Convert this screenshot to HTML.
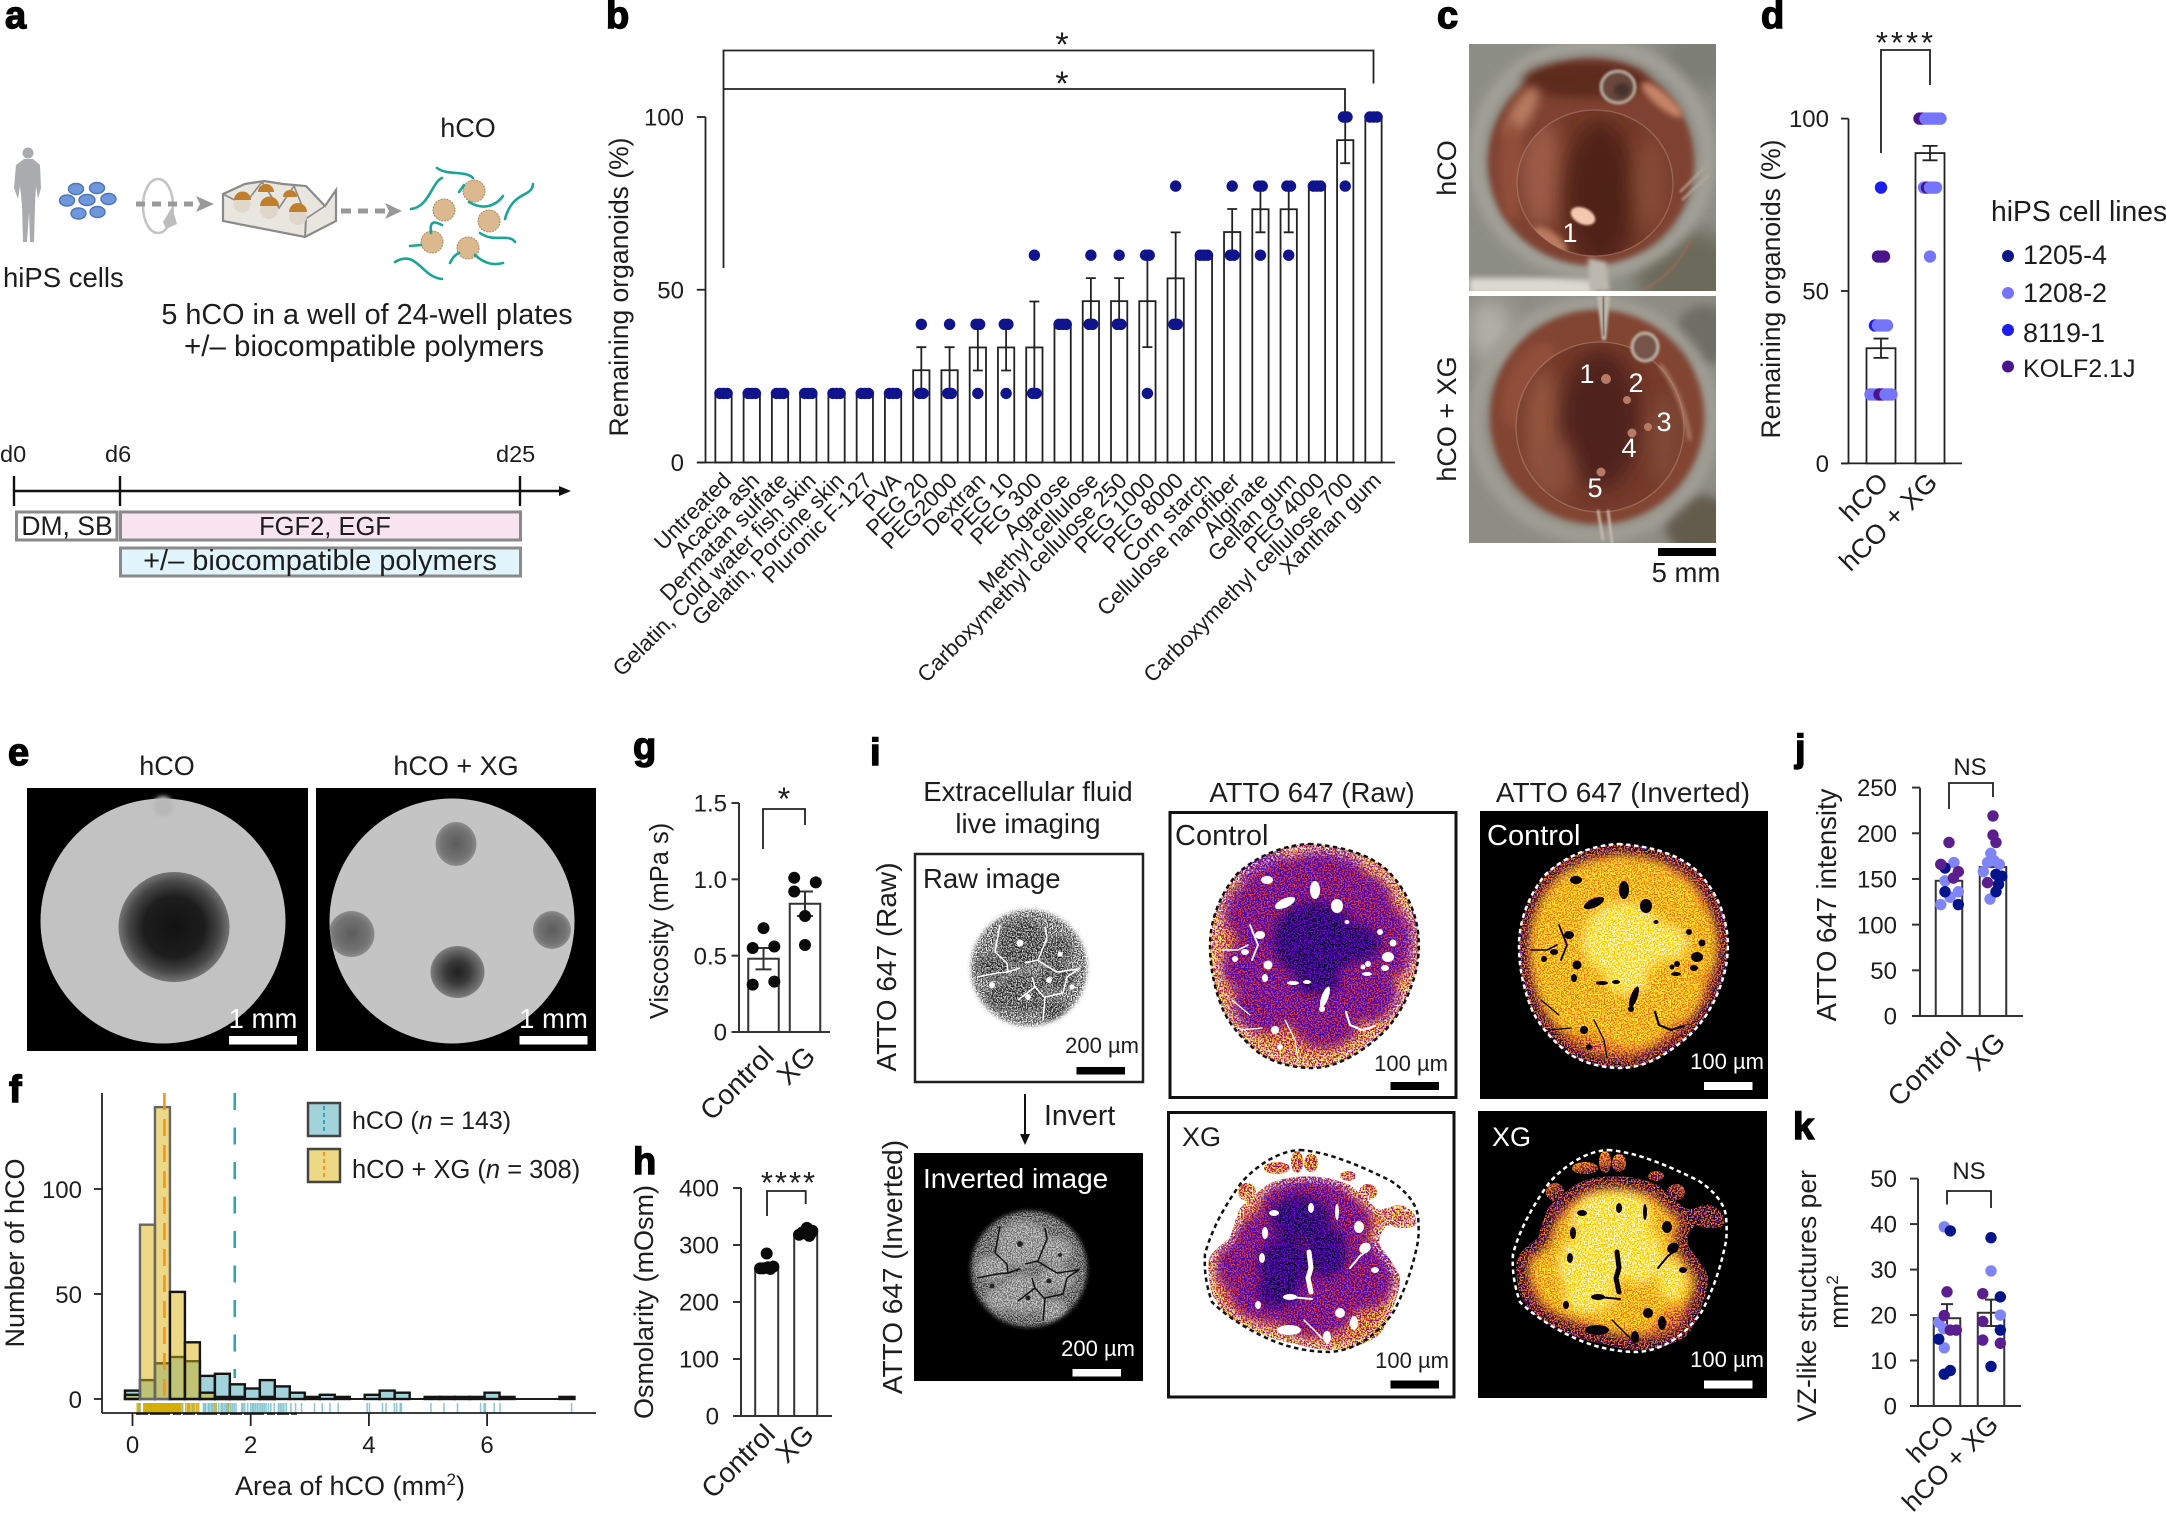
<!DOCTYPE html>
<html lang="en">
<head>
<meta charset="utf-8">
<title>Biocompatible polymers and human cortical organoids</title>
<style>
html,body{margin:0;padding:0;background:#fff}
svg{display:block}
text{font-family:"Liberation Sans",sans-serif;fill:#1d1d1d}
.pl{font-size:38px;font-weight:bold;fill:#000;stroke:#000;stroke-width:1.4}
.w{fill:#fff}
</style>
</head>
<body>
<svg id="root" xmlns="http://www.w3.org/2000/svg" width="2166" height="1517" viewBox="0 0 2166 1517">
<defs>
<filter id="blur1" x="-30%" y="-30%" width="160%" height="160%"><feGaussianBlur stdDeviation="1"/></filter>
<filter id="blur2" x="-30%" y="-30%" width="160%" height="160%"><feGaussianBlur stdDeviation="2"/></filter>
<filter id="blur3" x="-30%" y="-30%" width="160%" height="160%"><feGaussianBlur stdDeviation="3"/></filter>
<filter id="blur5" x="-40%" y="-40%" width="180%" height="180%"><feGaussianBlur stdDeviation="5"/></filter>
<filter id="blur10" x="-60%" y="-60%" width="220%" height="220%"><feGaussianBlur stdDeviation="10"/></filter>

<filter id="nRawOuter" x="0" y="0" width="100%" height="100%" color-interpolation-filters="sRGB">
<feTurbulence type="fractalNoise" baseFrequency="0.65" numOctaves="1" seed="3"/>
<feColorMatrix values="5 0 0 0 -2 5 0 0 0 -2 5 0 0 0 -2 0 0 0 0 1"/>
<feComponentTransfer><feFuncR type="discrete" tableValues=".55 .8 .95 1 1"/><feFuncG type="discrete" tableValues=".05 .18 .42 .68 .92"/><feFuncB type="discrete" tableValues=".42 .3 .1 .05 .4"/></feComponentTransfer>
</filter>
<filter id="nRawMid" x="0" y="0" width="100%" height="100%" color-interpolation-filters="sRGB">
<feTurbulence type="fractalNoise" baseFrequency="0.7" numOctaves="1" seed="8"/>
<feColorMatrix values="5 0 0 0 -2 5 0 0 0 -2 5 0 0 0 -2 0 0 0 0 1"/>
<feComponentTransfer><feFuncR type="discrete" tableValues=".22 .36 .48 .62 .85"/><feFuncG type="discrete" tableValues=".02 .03 .05 .08 .25"/><feFuncB type="discrete" tableValues=".62 .7 .66 .48 .25"/></feComponentTransfer>
</filter>
<filter id="nRawCore" x="0" y="0" width="100%" height="100%" color-interpolation-filters="sRGB">
<feTurbulence type="fractalNoise" baseFrequency="0.7" numOctaves="1" seed="15"/>
<feColorMatrix values="5 0 0 0 -2 5 0 0 0 -2 5 0 0 0 -2 0 0 0 0 1"/>
<feComponentTransfer><feFuncR type="discrete" tableValues=".02 .1 .2 .3 .45"/><feFuncG type="discrete" tableValues="0 0 .02 .03 .05"/><feFuncB type="discrete" tableValues=".1 .42 .62 .72 .72"/></feComponentTransfer>
</filter>
<filter id="nInvOuter" x="0" y="0" width="100%" height="100%" color-interpolation-filters="sRGB">
<feTurbulence type="fractalNoise" baseFrequency="0.65" numOctaves="1" seed="5"/>
<feColorMatrix values="5 0 0 0 -2 5 0 0 0 -2 5 0 0 0 -2 0 0 0 0 1"/>
<feComponentTransfer><feFuncR type="discrete" tableValues=".6 .85 .97 1 1"/><feFuncG type="discrete" tableValues=".12 .3 .5 .64 .76"/><feFuncB type="discrete" tableValues=".3 .2 .08 .06 .12"/></feComponentTransfer>
</filter>
<filter id="nInvMid" x="0" y="0" width="100%" height="100%" color-interpolation-filters="sRGB">
<feTurbulence type="fractalNoise" baseFrequency="0.7" numOctaves="1" seed="11"/>
<feColorMatrix values="5 0 0 0 -2 5 0 0 0 -2 5 0 0 0 -2 0 0 0 0 1"/>
<feComponentTransfer><feFuncR type="discrete" tableValues=".9 1 1 1 1"/><feFuncG type="discrete" tableValues=".45 .62 .74 .84 .92"/><feFuncB type="discrete" tableValues=".08 .04 .06 .12 .3"/></feComponentTransfer>
</filter>
<filter id="nInvCore" x="0" y="0" width="100%" height="100%" color-interpolation-filters="sRGB">
<feTurbulence type="fractalNoise" baseFrequency="0.7" numOctaves="1" seed="9"/>
<feColorMatrix values="5 0 0 0 -2 5 0 0 0 -2 5 0 0 0 -2 0 0 0 0 1"/>
<feComponentTransfer><feFuncR type="discrete" tableValues="1 1 1 1 1"/><feFuncG type="discrete" tableValues=".76 .84 .9 .97 1"/><feFuncB type="discrete" tableValues=".05 .1 .2 .45 .9"/></feComponentTransfer>
</filter>
<filter id="nInvRim" x="0" y="0" width="100%" height="100%" color-interpolation-filters="sRGB">
<feTurbulence type="fractalNoise" baseFrequency="0.7" numOctaves="1" seed="12"/>
<feColorMatrix values="5 0 0 0 -2 5 0 0 0 -2 5 0 0 0 -2 0 0 0 0 1"/>
<feComponentTransfer><feFuncR type="discrete" tableValues="0 .12 .35 .7 .95"/><feFuncG type="discrete" tableValues="0 0 .03 .12 .5"/><feFuncB type="discrete" tableValues="0 .22 .58 .4 .1"/></feComponentTransfer>
</filter>
<filter id="nSpeckle" x="0" y="0" width="100%" height="100%" color-interpolation-filters="sRGB">
<feTurbulence type="fractalNoise" baseFrequency="0.6" numOctaves="1" seed="21"/>
<feColorMatrix values="0 0 0 0 1 0 0 0 0 1 0 0 0 0 1 7 0 0 0 -3.5"/>
</filter>
<filter id="nGrayRawLight" x="0" y="0" width="100%" height="100%" color-interpolation-filters="sRGB">
<feTurbulence type="fractalNoise" baseFrequency="0.8" numOctaves="1" seed="4"/>
<feColorMatrix values="5 0 0 0 -2 5 0 0 0 -2 5 0 0 0 -2 0 0 0 0 1"/>
<feComponentTransfer><feFuncR type="discrete" tableValues=".22 .38 .52 .7 .95"/><feFuncG type="discrete" tableValues=".22 .38 .52 .7 .95"/><feFuncB type="discrete" tableValues=".22 .38 .52 .7 .95"/></feComponentTransfer>
</filter>
<filter id="nGrayRawDark" x="0" y="0" width="100%" height="100%" color-interpolation-filters="sRGB">
<feTurbulence type="fractalNoise" baseFrequency="0.8" numOctaves="1" seed="6"/>
<feColorMatrix values="5 0 0 0 -2 5 0 0 0 -2 5 0 0 0 -2 0 0 0 0 1"/>
<feComponentTransfer><feFuncR type="discrete" tableValues=".12 .25 .35 .5 .8"/><feFuncG type="discrete" tableValues=".12 .25 .35 .5 .8"/><feFuncB type="discrete" tableValues=".12 .25 .35 .5 .8"/></feComponentTransfer>
</filter>
<filter id="nGrayInvLight" x="0" y="0" width="100%" height="100%" color-interpolation-filters="sRGB">
<feTurbulence type="fractalNoise" baseFrequency="0.8" numOctaves="1" seed="7"/>
<feColorMatrix values="5 0 0 0 -2 5 0 0 0 -2 5 0 0 0 -2 0 0 0 0 1"/>
<feComponentTransfer><feFuncR type="discrete" tableValues=".2 .36 .46 .56 .68"/><feFuncG type="discrete" tableValues=".2 .36 .46 .56 .68"/><feFuncB type="discrete" tableValues=".2 .36 .46 .56 .68"/></feComponentTransfer>
</filter>
<filter id="nGrayInvBright" x="0" y="0" width="100%" height="100%" color-interpolation-filters="sRGB">
<feTurbulence type="fractalNoise" baseFrequency="0.8" numOctaves="1" seed="17"/>
<feColorMatrix values="5 0 0 0 -2 5 0 0 0 -2 5 0 0 0 -2 0 0 0 0 1"/>
<feComponentTransfer><feFuncR type="discrete" tableValues=".42 .52 .6 .68 .8"/><feFuncG type="discrete" tableValues=".42 .52 .6 .68 .8"/><feFuncB type="discrete" tableValues=".42 .52 .6 .68 .8"/></feComponentTransfer>
</filter>

<radialGradient id="gradLargeDark"><stop offset="0" stop-color="#121212"/><stop offset=".55" stop-color="#1d1d1d"/><stop offset=".82" stop-color="#474747"/><stop offset="1" stop-color="#757575"/></radialGradient>
<radialGradient id="gradSmallDark"><stop offset="0" stop-color="#1f1f1f"/><stop offset=".45" stop-color="#3a3a3a"/><stop offset=".85" stop-color="#6a6a6a"/><stop offset="1" stop-color="#808080"/></radialGradient>
<radialGradient id="gradSmallMid"><stop offset="0" stop-color="#5c5c5c"/><stop offset=".75" stop-color="#747474"/><stop offset="1" stop-color="#8c8c8c"/></radialGradient>

<path id="outlineCtl" d="M1309,844 C1345,846 1372,856 1388,871 C1406,890 1415,910 1418,932 C1420,950 1418,965 1414,978 C1406,1005 1392,1026 1376,1039 C1356,1056 1334,1068 1312,1068 C1292,1068 1272,1062 1259,1053 C1243,1040 1231,1026 1224,1012 C1215,992 1210,968 1210,946 C1210,920 1220,895 1236,875 C1256,856 1284,845 1309,844 Z"/>
<path id="outlineXg" d="M1300,1150 C1330,1152 1365,1168 1391,1181 C1406,1191 1416,1203 1418,1216 C1419,1228 1419,1238 1417,1246 C1412,1270 1404,1292 1394,1311 C1380,1332 1358,1350 1330,1352 C1310,1352 1290,1348 1271,1340 C1248,1330 1226,1316 1212,1302 C1206,1285 1204,1270 1205,1254 C1212,1228 1226,1204 1241,1183 C1256,1166 1278,1151 1300,1150 Z"/>
<path id="tissueXg" d="M1267,1185 C1285,1175 1320,1172 1350,1185 C1362,1195 1370,1203 1376,1208 C1385,1212 1395,1203 1402,1205 C1410,1208 1418,1215 1416,1225 C1408,1230 1395,1228 1387,1225 C1381,1232 1378,1238 1380,1246 C1388,1258 1398,1268 1400,1278 C1400,1290 1396,1298 1394,1305 C1388,1320 1384,1330 1378,1336 C1362,1346 1346,1350 1334,1350 C1320,1350 1310,1348 1300,1345 C1284,1342 1270,1338 1257,1332 C1244,1326 1232,1320 1224,1312 C1216,1302 1211,1295 1210,1285 C1208,1275 1208,1265 1209,1258 C1214,1250 1222,1244 1230,1238 C1233,1228 1236,1218 1240,1208 C1248,1200 1258,1192 1267,1185 Z"/>
<clipPath id="clipCtl"><use href="#outlineCtl"/></clipPath>
<clipPath id="clipCtlInv"><use href="#outlineCtl" transform="translate(309,0)"/></clipPath>
<clipPath id="clipXg"><use href="#tissueXg"/><ellipse cx="1277" cy="1168" rx="13" ry="6"/><ellipse cx="1297" cy="1162" rx="6" ry="11"/><ellipse cx="1311" cy="1163" rx="7" ry="9"/><ellipse cx="1247" cy="1192" rx="9" ry="9"/><ellipse cx="1348" cy="1176" rx="8" ry="5"/><ellipse cx="1368" cy="1192" rx="9" ry="8"/></clipPath>
<clipPath id="clipXgInv"><use href="#tissueXg" transform="translate(308,0)"/><ellipse cx="1585" cy="1168" rx="13" ry="6"/><ellipse cx="1605" cy="1162" rx="6" ry="11"/><ellipse cx="1619" cy="1163" rx="7" ry="9"/><ellipse cx="1555" cy="1192" rx="9" ry="9"/><ellipse cx="1656" cy="1176" rx="8" ry="5"/><ellipse cx="1676" cy="1192" rx="9" ry="8"/></clipPath>

<g id="lobesCtlMid" fill="#fff" filter="url(#blur5)">
<ellipse cx="1268" cy="872" rx="30" ry="22"/><ellipse cx="1325" cy="875" rx="40" ry="27"/><ellipse cx="1367" cy="905" rx="26" ry="30"/><ellipse cx="1395" cy="943" rx="21" ry="34"/><ellipse cx="1242" cy="910" rx="20" ry="24"/><ellipse cx="1248" cy="967" rx="27" ry="24"/><ellipse cx="1372" cy="997" rx="27" ry="25"/><ellipse cx="1325" cy="1019" rx="34" ry="29"/><ellipse cx="1265" cy="1007" rx="32" ry="26"/><ellipse cx="1278" cy="910" rx="28" ry="24"/><ellipse cx="1315" cy="945" rx="80" ry="68"/>
</g>
<g id="lobesCtlCore" fill="#fff" filter="url(#blur5)">
<ellipse cx="1315" cy="940" rx="42" ry="38"/><ellipse cx="1357" cy="943" rx="22" ry="18"/><ellipse cx="1318" cy="982" rx="22" ry="12"/>
</g>
<g id="lobesXgMid" fill="#fff" filter="url(#blur5)">
<ellipse cx="1307" cy="1208" rx="48" ry="34"/><ellipse cx="1270" cy="1248" rx="40" ry="36"/><ellipse cx="1367" cy="1275" rx="28" ry="34"/><ellipse cx="1327" cy="1292" rx="38" ry="34"/><ellipse cx="1274" cy="1295" rx="44" ry="27"/><ellipse cx="1314" cy="1320" rx="34" ry="17"/><ellipse cx="1240" cy="1265" rx="24" ry="28"/><ellipse cx="1344" cy="1222" rx="28" ry="27"/><ellipse cx="1305" cy="1255" rx="36" ry="30"/>
</g>
<g id="lobesXgCore" fill="#fff" filter="url(#blur5)">
<ellipse cx="1300" cy="1218" rx="30" ry="22"/><ellipse cx="1327" cy="1252" rx="20" ry="25"/><ellipse cx="1284" cy="1265" rx="25" ry="28"/><ellipse cx="1277" cy="1292" rx="20" ry="15"/>
</g>
<g id="coreXgInv" fill="#fff" filter="url(#blur5)">
<ellipse cx="1612" cy="1218" rx="40" ry="30"/><ellipse cx="1638" cy="1255" rx="26" ry="28"/><ellipse cx="1590" cy="1265" rx="32" ry="32"/><ellipse cx="1590" cy="1295" rx="26" ry="18"/><ellipse cx="1672" cy="1280" rx="14" ry="20"/>
</g>
<mask id="maskCtlMid" maskUnits="userSpaceOnUse" x="0" y="0" width="2166" height="1517"><use href="#lobesCtlMid"/></mask>
<mask id="maskCtlCore" maskUnits="userSpaceOnUse" x="0" y="0" width="2166" height="1517"><use href="#lobesCtlCore"/></mask>
<mask id="maskXgMid" maskUnits="userSpaceOnUse" x="0" y="0" width="2166" height="1517"><use href="#lobesXgMid"/></mask>
<mask id="maskXgCore" maskUnits="userSpaceOnUse" x="0" y="0" width="2166" height="1517"><use href="#lobesXgCore"/></mask>
<mask id="maskCtlInvMid" maskUnits="userSpaceOnUse" x="0" y="0" width="2166" height="1517"><use href="#lobesCtlMid" transform="translate(309,0)"/><ellipse cx="1620" cy="1000" rx="60" ry="40" fill="#fff" filter="url(#blur5)"/><ellipse cx="1550" cy="950" rx="28" ry="60" fill="#fff" filter="url(#blur5)"/></mask>
<mask id="maskCtlInvCore" maskUnits="userSpaceOnUse" x="0" y="0" width="2166" height="1517"><use href="#lobesCtlCore" transform="translate(309,0)"/></mask>
<mask id="maskXgInvMid" maskUnits="userSpaceOnUse" x="0" y="0" width="2166" height="1517"><use href="#lobesXgMid" transform="translate(308,0)"/></mask>
<mask id="maskXgInvCore" maskUnits="userSpaceOnUse" x="0" y="0" width="2166" height="1517"><use href="#coreXgInv"/></mask>
<mask id="maskCtlRing" maskUnits="userSpaceOnUse" x="0" y="0" width="2166" height="1517"><use href="#outlineCtl" fill="none" stroke="#fff" stroke-width="20" filter="url(#blur5)"/></mask>
<mask id="maskXgRing" maskUnits="userSpaceOnUse" x="0" y="0" width="2166" height="1517"><use href="#tissueXg" fill="none" stroke="#fff" stroke-width="14" filter="url(#blur3)"/></mask>
<mask id="maskCtlInvRing" maskUnits="userSpaceOnUse" x="0" y="0" width="2166" height="1517"><use href="#outlineCtl" transform="translate(309,0)" fill="none" stroke="#fff" stroke-width="20" filter="url(#blur5)"/></mask>
<mask id="maskXgInvRing" maskUnits="userSpaceOnUse" x="0" y="0" width="2166" height="1517"><use href="#tissueXg" transform="translate(308,0)" fill="none" stroke="#fff" stroke-width="24" filter="url(#blur5)"/></mask>

<g id="cracksCtl" fill="currentColor" stroke="currentColor" stroke-linecap="round" stroke-linejoin="round">
<g stroke="none">
<ellipse cx="1267" cy="880" rx="6" ry="4"/><ellipse cx="1285" cy="903" rx="11" ry="4.500" transform="rotate(-25 1285 903)"/><ellipse cx="1315" cy="890" rx="5" ry="9"/><ellipse cx="1337" cy="906" rx="6" ry="7"/><ellipse cx="1260" cy="935" rx="5" ry="4"/><ellipse cx="1245" cy="952" rx="4" ry="3"/><ellipse cx="1268" cy="965" rx="4.500" ry="4.500"/><ellipse cx="1235" cy="959" rx="3" ry="3"/><ellipse cx="1265" cy="978" rx="3" ry="4"/><ellipse cx="1325" cy="997" rx="3.500" ry="11" transform="rotate(20 1325 997)"/><ellipse cx="1322" cy="1009" rx="3" ry="3"/><ellipse cx="1293" cy="983" rx="6" ry="2"/><ellipse cx="1307" cy="982" rx="4" ry="2"/><ellipse cx="1380" cy="932" rx="3" ry="3"/><ellipse cx="1393" cy="943" rx="3.500" ry="3.500"/><ellipse cx="1368" cy="964" rx="3" ry="3"/><ellipse cx="1363" cy="967" rx="2.500" ry="2.500"/><ellipse cx="1388" cy="957" rx="6" ry="5"/><ellipse cx="1385" cy="968" rx="4" ry="3"/><ellipse cx="1367" cy="974" rx="5" ry="2"/><ellipse cx="1275" cy="1030" rx="4" ry="4"/><ellipse cx="1280" cy="1047" rx="3" ry="3"/><ellipse cx="1347" cy="922" rx="2.500" ry="2"/>
</g>
<path d="M1346,1012 L1350,1025 L1362,1030 L1375,1026" fill="none" stroke-width="2.200"/><path d="M1222,950 L1238,950 L1248,945" fill="none" stroke-width="1.600"/><path d="M1250,925 L1258,945 L1252,960" fill="none" stroke-width="1.800"/><path d="M1232,1000 L1250,1015" fill="none" stroke-width="1.300"/><path d="M1285,1020 L1295,1040 L1298,1058" fill="none" stroke-width="1.300"/><path d="M1240,1030 L1262,1028" fill="none" stroke-width="1.300"/>
</g>
<g id="cracksXg" fill="currentColor" stroke="currentColor" stroke-linecap="round" stroke-linejoin="round">
<path d="M1309,1252 L1311,1268 L1308,1278 L1311,1292" fill="none" stroke-width="5"/><path d="M1290,1297 L1312,1299" fill="none" stroke-width="2"/><path d="M1350,1268 L1360,1256 L1368,1250" fill="none" stroke-width="2"/><path d="M1304,1320 L1322,1338" fill="none" stroke-width="1.500"/>
<g stroke="none">
<ellipse cx="1311" cy="1208" rx="3" ry="5"/><ellipse cx="1274" cy="1213" rx="5" ry="3"/><ellipse cx="1265" cy="1233" rx="3" ry="6"/><ellipse cx="1337" cy="1212" rx="2" ry="8"/><ellipse cx="1359" cy="1227" rx="5" ry="6"/><ellipse cx="1365" cy="1248" rx="6" ry="5" transform="rotate(-35 1365 1248)"/><ellipse cx="1290" cy="1297" rx="7" ry="3"/><ellipse cx="1340" cy="1313" rx="5" ry="5"/><ellipse cx="1354" cy="1323" rx="4" ry="7"/><ellipse cx="1289" cy="1330" rx="12" ry="5"/><ellipse cx="1327" cy="1337" rx="4" ry="6"/><ellipse cx="1375" cy="1270" rx="4" ry="3"/><ellipse cx="1258" cy="1305" rx="3" ry="4"/><ellipse cx="1262" cy="1258" rx="3" ry="5"/>
</g>
</g>
<g id="grayCracks" fill="none" stroke="currentColor" stroke-width="1.500" stroke-linejoin="round">
<path d="M995,952 L1007,963 L1008,972"/><path d="M1045,927 L1047,938 L1038,960 L1025,963"/><path d="M1032,977 L1035,987 L1045,998 L1043,1020"/><path d="M1045,997 L1063,993 L1067,977 L1080,968"/><path d="M977,977 L997,973 L1008,972 L1020,968"/><path d="M1037,960 L1057,972 L1078,969"/><path d="M1000,925 L995,952"/><path d="M1018,1000 L1035,987"/>
</g>
<g id="lobesGray" fill="#fff" filter="url(#blur3)">
<ellipse cx="1023" cy="943" rx="26" ry="23"/><ellipse cx="993" cy="967" rx="17" ry="13"/><ellipse cx="1023" cy="993" rx="23" ry="20"/><ellipse cx="1057" cy="977" rx="18" ry="13"/><ellipse cx="1055" cy="950" rx="17" ry="14"/><ellipse cx="1003" cy="997" rx="17" ry="13"/><ellipse cx="1053" cy="1010" rx="14" ry="12"/>
</g>
<mask id="maskGrayEdge1" maskUnits="userSpaceOnUse" x="0" y="0" width="2166" height="1517"><circle cx="1029" cy="968" r="58" fill="#fff" filter="url(#blur2)"/></mask>
<mask id="maskGrayEdge2" maskUnits="userSpaceOnUse" x="0" y="0" width="2166" height="1517"><circle cx="1029" cy="1269" r="58" fill="#fff" filter="url(#blur2)"/></mask>
<mask id="maskGrayLobes1" maskUnits="userSpaceOnUse" x="0" y="0" width="2166" height="1517"><use href="#lobesGray"/></mask>
<mask id="maskGrayLobes2" maskUnits="userSpaceOnUse" x="0" y="0" width="2166" height="1517"><use href="#lobesGray" transform="translate(0,301)"/></mask>
</defs>

<!-- Panel labels -->
<text class="pl" x="5" y="28">a</text>
<text class="pl" x="606" y="28">b</text>
<text class="pl" x="1437" y="28">c</text>
<text class="pl" x="1761" y="28">d</text>
<text class="pl" x="8" y="765">e</text>
<text class="pl" x="9" y="1102">f</text>
<text class="pl" x="633" y="759">g</text>
<text class="pl" x="633" y="1174">h</text>
<text class="pl" x="870" y="765">i</text>
<text class="pl" x="1795" y="761">j</text>
<text class="pl" x="1793" y="1139">k</text>

<!-- Panel a -->
<g>
<g fill="#a9abae">
<circle cx="28" cy="153" r="5.500"/>
<path d="M24,159 L33,159 L40,165 L41,188 L38,199 L36,186 L35,205 L34,242 L30,242 L29,212 L27,242 L23,242 L22,205 L20,186 L18,199 L14,188 L16,165 Z"/>
</g>
<g fill="#6f98dc" stroke="#4c74b8" stroke-width="1.400">
<ellipse cx="76" cy="189" rx="7.500" ry="5.500"/><ellipse cx="97" cy="188" rx="7.500" ry="5.500"/><ellipse cx="67" cy="200.500" rx="7.500" ry="5.500"/><ellipse cx="87" cy="200" rx="8" ry="5.500"/><ellipse cx="108.500" cy="199" rx="7.500" ry="5.500"/><ellipse cx="78.500" cy="213.500" rx="7.500" ry="5.500"/><ellipse cx="97.500" cy="212" rx="7.500" ry="5.500"/>
</g>
<ellipse cx="158" cy="206" rx="15" ry="27" fill="none" stroke="#c4c4c4" stroke-width="2.500"/>
<path d="M166,229 L177,224 L172,207 L163,222 Z" fill="#bdbdbd"/>
<path d="M136,204 L197,204" stroke="#999" stroke-width="5" stroke-dasharray="9 7" fill="none"/>
<path d="M196,196 L214,204 L196,212 L200,204 Z" fill="#999"/>
<g>
<path d="M223,194 L245,184 L264,181 L283,184 L306,186 L325,206 L336,190 L336,221 L305,237 L223,221 Z" fill="#e9e6e0" stroke="#8a8a8a" stroke-width="2.200"/>
<path d="M223,194 L244,205 L262,182 L279,208 L294,186 L307,218 L325,206" fill="none" stroke="#8a8a8a" stroke-width="1.600"/>
<path d="M306,218 L305,237" stroke="#8a8a8a" stroke-width="2"/>
<g fill="#ded7ca"><circle cx="242" cy="204" r="8.500"/><circle cx="269" cy="210" r="9"/><circle cx="298" cy="216" r="9"/></g>
<g fill="#c17f2c"><path d="M234,200 A8.500,8.500 0 0 1 251,200 Z"/><path d="M260,206 A9,9 0 0 1 279,206 Z"/><path d="M289,212 A9,9 0 0 1 307,212 Z"/><path d="M258,192 A8,8 0 0 1 274,192 Z"/><path d="M283,197 A7,7 0 0 1 297,197 Z"/></g>
</g>
<path d="M341,211 L386,211" stroke="#999" stroke-width="5" stroke-dasharray="10 7" fill="none"/>
<path d="M385,203 L402,211 L385,219 L389,211 Z" fill="#999"/>
<g fill="#dcb88f" stroke="#a8895f" stroke-width="1" stroke-dasharray="2 1">
<circle cx="474" cy="191" r="11"/><circle cx="444" cy="210" r="11"/><circle cx="489" cy="221" r="11"/><circle cx="432" cy="242" r="11"/><circle cx="468" cy="248" r="11"/>
</g>
<g fill="none" stroke="#1aa597" stroke-width="2.600" stroke-linecap="round">
<path d="M411,209 C429,207 432,182 442,178"/><path d="M437,168 C448,176 465,170 473,178"/><path d="M469,202 C482,210 495,207 503,196"/><path d="M505,219 C513,190 532,198 533,184"/><path d="M480,233 C494,243 509,233 515,242"/><path d="M475,255 C486,265 495,265 503,263"/><path d="M450,263 C453,257 455,255 459,253"/><path d="M395,262 C417,249 421,277 442,279"/><path d="M431,233 C429,219 436,222 442,225"/><path d="M410,246 L421,245"/><path d="M459,192 L464,185"/>
</g>
<text x="468" y="137" font-size="27" text-anchor="middle">hCO</text>
<text x="3" y="287" font-size="27.500">hiPS cells</text>
<text x="367" y="324" font-size="28.800" text-anchor="middle">5 hCO in a well of 24-well plates</text>
<text x="364" y="356" font-size="29.500" text-anchor="middle">+/– biocompatible polymers</text>
</g>
<g>
<path d="M14,491 L564,491" stroke="#111" stroke-width="2.400"/>
<path d="M559,486 L571,491 L559,496 Z" fill="#111"/>
<path d="M14,476 V506 M120,476 V506 M520,476 V506" stroke="#111" stroke-width="2.400"/>
<text x="0" y="462" font-size="23.500">d0</text>
<text x="105" y="462" font-size="23.500">d6</text>
<text x="496" y="462" font-size="23.500">d25</text>
<rect x="16.500" y="512" width="100.500" height="28" fill="#fff" stroke="#8a8a8a" stroke-width="3"/>
<rect x="120.500" y="512" width="400" height="28" fill="#f9e4f1" stroke="#8a8a8a" stroke-width="3"/>
<rect x="120.500" y="548" width="400" height="28" fill="#e2f5fd" stroke="#8a8a8a" stroke-width="3"/>
<text x="67" y="535" font-size="26.500" text-anchor="middle">DM, SB</text>
<text x="325" y="535" font-size="25.500" text-anchor="middle">FGF2, EGF</text>
<text x="320" y="570" font-size="29" text-anchor="middle">+/– biocompatible polymers</text>
</g>

<!-- Panel c -->
<clipPath id="clipPhotoTop"><rect x="1469" y="44" width="247" height="247"/></clipPath>
<clipPath id="clipPhotoBottom"><rect x="1469" y="296" width="247" height="247"/></clipPath>
<clipPath id="clipDiscTop"><ellipse cx="1595" cy="183" rx="78" ry="73"/></clipPath>
<clipPath id="clipDiscBottom"><ellipse cx="1600" cy="427" rx="84" ry="85"/></clipPath>
<g clip-path="url(#clipPhotoTop)">
<rect x="1469" y="44" width="247" height="247" fill="#8d8e86"/>
<ellipse cx="1690" cy="275" rx="55" ry="45" fill="#6c6a5a" filter="url(#blur10)"/>
<ellipse cx="1700" cy="60" rx="40" ry="30" fill="#7d7e75" filter="url(#blur10)"/>
<rect x="1469" y="278" width="125" height="16" fill="#dcdad0" filter="url(#blur3)"/>
<ellipse cx="1592" cy="158" rx="116" ry="113" fill="none" stroke="#a3a198" stroke-width="15" filter="url(#blur5)"/>
<ellipse cx="1591" cy="162" rx="103" ry="103" fill="#7f4230" filter="url(#blur3)"/>
<ellipse cx="1585" cy="80" rx="62" ry="18" fill="#5d2b1f" filter="url(#blur5)"/>
<ellipse cx="1522" cy="112" rx="10" ry="28" transform="rotate(30 1522 112)" fill="#b87b60" filter="url(#blur5)"/>
<ellipse cx="1662" cy="100" rx="26" ry="7" transform="rotate(40 1662 100)" fill="#c58468" filter="url(#blur3)"/>
<ellipse cx="1512" cy="170" rx="12" ry="50" fill="#93503b" filter="url(#blur5)"/>
<ellipse cx="1595" cy="183" rx="78" ry="73" fill="#753b2a"/>
<g clip-path="url(#clipDiscTop)">
<ellipse cx="1542" cy="175" rx="22" ry="55" fill="#9c5c46" filter="url(#blur10)"/>
<ellipse cx="1600" cy="195" rx="36" ry="75" fill="#4f2218" filter="url(#blur10)"/>
<ellipse cx="1650" cy="185" rx="15" ry="50" fill="#874c38" filter="url(#blur10)"/>
<ellipse cx="1550" cy="240" rx="20" ry="8" transform="rotate(35 1550 240)" fill="#bb7a5f" filter="url(#blur3)"/>
</g>
<ellipse cx="1595" cy="183" rx="78" ry="73" fill="none" stroke="#c7a08e" stroke-width="1.300" opacity=".4"/>
<path d="M1680,192 L1704,168 M1682,200 L1708,176" stroke="#b8a89b" stroke-width="2" fill="none" filter="url(#blur1)"/>
<path d="M1588,258 L1606,262 L1610,291 L1590,291 Z" fill="#bcb8ad" filter="url(#blur2)"/>
<path d="M1640,291 C1665,280 1680,262 1690,240" stroke="#9a6c58" stroke-width="2" fill="none" filter="url(#blur1)"/>
<ellipse cx="1618" cy="87" rx="17" ry="16" fill="#6a4a3e" stroke="#b5aa9e" stroke-width="3" filter="url(#blur1)"/>
<ellipse cx="1622" cy="90" rx="8" ry="7" fill="#46332b" filter="url(#blur2)"/>
<ellipse cx="1583" cy="216" rx="13" ry="8" transform="rotate(25 1583 216)" fill="#f4c8b0" filter="url(#blur1)"/>
<text x="1570" y="242" font-size="27" text-anchor="middle" class="w">1</text>
</g>
<g clip-path="url(#clipPhotoBottom)">
<rect x="1469" y="296" width="247" height="247" fill="#8e8d84"/>
<ellipse cx="1705" cy="335" rx="30" ry="30" fill="#6e6e66" filter="url(#blur5)"/>
<ellipse cx="1700" cy="525" rx="35" ry="30" fill="#645c4e" filter="url(#blur5)"/>
<ellipse cx="1490" cy="330" rx="22" ry="30" fill="#b2b0a6" filter="url(#blur10)"/>
<ellipse cx="1594" cy="420" rx="118" ry="116" fill="none" stroke="#a09e94" stroke-width="15" filter="url(#blur5)"/>
<ellipse cx="1597" cy="417" rx="107" ry="107" fill="#824432" filter="url(#blur3)"/>
<ellipse cx="1530" cy="385" rx="22" ry="45" transform="rotate(25 1530 385)" fill="#91503a" filter="url(#blur5)"/>
<ellipse cx="1600" cy="427" rx="84" ry="85" fill="#753b2a"/>
<g clip-path="url(#clipDiscBottom)">
<ellipse cx="1545" cy="430" rx="20" ry="60" fill="#95563f" filter="url(#blur10)"/>
<ellipse cx="1600" cy="420" rx="40" ry="70" fill="#4f241b" filter="url(#blur10)"/>
<ellipse cx="1665" cy="440" rx="14" ry="45" fill="#804c39" filter="url(#blur10)"/>
<ellipse cx="1555" cy="470" rx="18" ry="30" fill="#8a503d" filter="url(#blur10)"/>
</g>
<ellipse cx="1600" cy="427" rx="84" ry="85" fill="none" stroke="#c9a492" stroke-width="1.300" opacity=".4"/>
<path d="M1660,365 C1675,385 1685,410 1690,440" stroke="#b8907a" stroke-width="3" fill="none" filter="url(#blur2)"/>
<ellipse cx="1645" cy="347" rx="13" ry="14" fill="#75544a" stroke="#bdb1a5" stroke-width="3" filter="url(#blur1)"/>
<path d="M1597,296 L1610,296 L1606,340 L1602,340 Z" fill="#bdb8ac" filter="url(#blur1)"/>
<path d="M1603,296 L1604,336" stroke="#5c4a42" stroke-width="2" filter="url(#blur1)"/>
<path d="M1598,510 L1603,540 M1608,510 L1612,543" stroke="#c9bfb2" stroke-width="2.500" fill="none" filter="url(#blur1)"/>
<g fill="#b87a64"><circle cx="1606" cy="379" r="5"/><circle cx="1627" cy="400" r="4"/><circle cx="1648" cy="427" r="4"/><circle cx="1632" cy="433" r="4.500"/><circle cx="1601" cy="472" r="4.500"/></g>
<text x="1587" y="383" font-size="27" text-anchor="middle" class="w">1</text>
<text x="1636" y="392" font-size="27" text-anchor="middle" class="w">2</text>
<text x="1664" y="431" font-size="27" text-anchor="middle" class="w">3</text>
<text x="1629" y="457" font-size="27" text-anchor="middle" class="w">4</text>
<text x="1595" y="497" font-size="27" text-anchor="middle" class="w">5</text>
</g>
<text transform="translate(1456,168) rotate(-90)" font-size="27" text-anchor="middle">hCO</text>
<text transform="translate(1456,419) rotate(-90)" font-size="27" text-anchor="middle">hCO + XG</text>
<rect x="1658" y="548" width="58" height="8" fill="#000"/>
<text x="1686" y="582" font-size="27.500" text-anchor="middle">5 mm</text>

<!-- Panel e -->
<g>
<rect x="27" y="788" width="281" height="263" fill="#000"/>
<circle cx="163" cy="921" r="122.500" fill="#c2c2c2"/>
<ellipse cx="163" cy="806" rx="10" ry="10" fill="#b8b8b8" filter="url(#blur2)"/>
<ellipse cx="174" cy="927" rx="55.500" ry="55" fill="url(#gradLargeDark)"/>
<rect x="229" y="1036" width="68" height="8.500" fill="#fff"/>
<text x="263" y="1028" font-size="27.500" text-anchor="middle" class="w">1 mm</text>
</g>
<g>
<rect x="316" y="788" width="280" height="263" fill="#000"/>
<clipPath id="clipXgWell"><circle cx="452" cy="921" r="122.500"/></clipPath>
<circle cx="452" cy="921" r="122.500" fill="#c4c4c4"/>
<g clip-path="url(#clipXgWell)">
<ellipse cx="456" cy="844" rx="20.500" ry="22" fill="url(#gradSmallMid)"/>
<ellipse cx="351.500" cy="934" rx="23" ry="23" fill="url(#gradSmallMid)"/>
<ellipse cx="552" cy="930" rx="19" ry="19" fill="url(#gradSmallMid)"/>
<ellipse cx="457.500" cy="972" rx="27" ry="26" fill="url(#gradSmallDark)"/>
</g>
<rect x="519.500" y="1036" width="68" height="8.500" fill="#fff"/>
<text x="553.500" y="1028" font-size="27.500" text-anchor="middle" class="w">1 mm</text>
</g>
<text x="167" y="775" font-size="27" text-anchor="middle">hCO</text>
<text x="456" y="775" font-size="27" text-anchor="middle">hCO + XG</text>

<!-- Panel i -->
<g>
<text x="1028" y="801" font-size="27.500" text-anchor="middle">Extracellular fluid</text>
<text x="1028" y="833" font-size="27.500" text-anchor="middle">live imaging</text>
<text transform="translate(896,967) rotate(-90)" font-size="28" text-anchor="middle">ATTO 647 (Raw)</text>
<text transform="translate(902,1267) rotate(-90)" font-size="28" text-anchor="middle">ATTO 647 (Inverted)</text>
<rect x="915" y="854" width="228" height="228" fill="#fff" stroke="#222" stroke-width="2.500"/>
<g mask="url(#maskGrayEdge1)">
<rect x="965" y="900" width="128" height="136" filter="url(#nGrayRawLight)"/>
<rect x="965" y="900" width="128" height="136" filter="url(#nGrayRawDark)" mask="url(#maskGrayLobes1)"/>
<use href="#grayCracks" color="#fff"/>
<g fill="#fff"><circle cx="1020" cy="943" r="3.500"/><circle cx="1060" cy="954" r="2.500"/><circle cx="1049" cy="980" r="3"/><circle cx="1028" cy="997" r="3"/><circle cx="992" cy="985" r="3"/><circle cx="1072" cy="987" r="2.500"/></g>
</g>
<text x="923" y="888" font-size="27.500">Raw image</text>
<text x="1139" y="1053" font-size="22" text-anchor="end">200 µm</text>
<rect x="1076.500" y="1067" width="48.500" height="7.500" fill="#000"/>
<path d="M1025,1094 L1025,1137" stroke="#111" stroke-width="2"/>
<path d="M1020,1134 L1025,1145 L1030,1134 Z" fill="#111"/>
<text x="1044" y="1125" font-size="28.500">Invert</text>
<rect x="914" y="1153" width="229" height="228" fill="#000"/>
<g mask="url(#maskGrayEdge2)">
<rect x="965" y="1200" width="128" height="136" filter="url(#nGrayInvLight)"/>
<rect x="965" y="1200" width="128" height="136" filter="url(#nGrayInvBright)" mask="url(#maskGrayLobes2)"/>
<use href="#grayCracks" color="#111" transform="translate(0,301)"/>
<g fill="#222"><circle cx="1020" cy="1244" r="3"/><circle cx="1060" cy="1255" r="2"/><circle cx="1049" cy="1281" r="2.500"/><circle cx="1028" cy="1298" r="2.500"/><circle cx="992" cy="1286" r="2.500"/></g>
</g>
<text x="923" y="1188" font-size="28" class="w">Inverted image</text>
<text x="1135" y="1356" font-size="22" text-anchor="end" class="w">200 µm</text>
<rect x="1072.500" y="1369" width="48.500" height="7.500" fill="#fff"/>
</g>
<g>
<text x="1312" y="802" font-size="27.500" text-anchor="middle">ATTO 647 (Raw)</text>
<rect x="1170" y="812.500" width="286" height="285" fill="#fff" stroke="#111" stroke-width="3"/>
<rect x="1168.500" y="1112.500" width="285.500" height="284.500" fill="#fff" stroke="#111" stroke-width="3"/>
<g clip-path="url(#clipCtl)">
<rect x="1205" y="840" width="220" height="232" filter="url(#nRawOuter)"/>
<rect x="1205" y="840" width="220" height="232" filter="url(#nRawMid)" mask="url(#maskCtlMid)"/>
<rect x="1205" y="840" width="220" height="232" filter="url(#nRawCore)" mask="url(#maskCtlCore)"/>
<rect x="1205" y="840" width="220" height="232" filter="url(#nSpeckle)" mask="url(#maskCtlRing)"/>
<use href="#cracksCtl" color="#fff"/>
</g>
<use href="#outlineCtl" fill="none" stroke="#111" stroke-width="2.500" stroke-dasharray="4.500 3.500"/>
<g clip-path="url(#clipXg)">
<rect x="1200" y="1145" width="225" height="212" filter="url(#nRawOuter)"/>
<rect x="1200" y="1145" width="225" height="212" filter="url(#nRawMid)" mask="url(#maskXgMid)"/>
<rect x="1200" y="1145" width="225" height="212" filter="url(#nRawCore)" mask="url(#maskXgCore)"/>
<rect x="1200" y="1145" width="225" height="212" filter="url(#nSpeckle)" mask="url(#maskXgRing)"/>
<use href="#cracksXg" color="#fff"/>
</g>
<use href="#outlineXg" fill="none" stroke="#111" stroke-width="2.500" stroke-dasharray="4.500 3.500"/>
<text x="1175" y="845" font-size="29">Control</text>
<text x="1182" y="1146" font-size="27">XG</text>
<text x="1448" y="1071" font-size="22" text-anchor="end">100 µm</text>
<rect x="1390.500" y="1082" width="48.500" height="8" fill="#000"/>
<text x="1449" y="1368" font-size="22" text-anchor="end">100 µm</text>
<rect x="1390.500" y="1380.500" width="48.500" height="8" fill="#000"/>
</g>
<g>
<text x="1623" y="802" font-size="28" text-anchor="middle">ATTO 647 (Inverted)</text>
<rect x="1480" y="811" width="288" height="288" fill="#000"/>
<rect x="1478" y="1111" width="289" height="287" fill="#000"/>
<g clip-path="url(#clipCtlInv)">
<rect x="1514" y="840" width="220" height="232" filter="url(#nInvOuter)"/>
<rect x="1514" y="840" width="220" height="232" filter="url(#nInvMid)" mask="url(#maskCtlInvMid)"/>
<rect x="1514" y="840" width="220" height="232" filter="url(#nInvCore)" mask="url(#maskCtlInvCore)"/>
<rect x="1514" y="840" width="220" height="232" filter="url(#nInvRim)" mask="url(#maskCtlInvRing)"/>
<use href="#cracksCtl" transform="translate(309,0)" color="#06000c"/>
</g>
<use href="#outlineCtl" transform="translate(309,0)" fill="none" stroke="#fff" stroke-width="2.500" stroke-dasharray="4.500 3.500"/>
<g clip-path="url(#clipXgInv)">
<rect x="1508" y="1145" width="225" height="212" filter="url(#nInvOuter)"/>
<rect x="1508" y="1145" width="225" height="212" filter="url(#nInvMid)" mask="url(#maskXgInvMid)"/>
<rect x="1508" y="1145" width="225" height="212" filter="url(#nInvCore)" mask="url(#maskXgInvCore)"/>
<rect x="1508" y="1145" width="225" height="212" filter="url(#nInvRim)" mask="url(#maskXgInvRing)"/>
<use href="#cracksXg" transform="translate(308,0)" color="#06000c"/>
</g>
<use href="#outlineXg" transform="translate(308,0)" fill="none" stroke="#fff" stroke-width="2.500" stroke-dasharray="4.500 3.500"/>
<text x="1487" y="845" font-size="29" class="w">Control</text>
<text x="1492" y="1146" font-size="27" class="w">XG</text>
<text x="1764" y="1069" font-size="22" text-anchor="end" class="w">100 µm</text>
<rect x="1704" y="1082" width="48.500" height="8" fill="#fff"/>
<text x="1764" y="1367" font-size="22" text-anchor="end" class="w">100 µm</text>
<rect x="1704" y="1380.500" width="48.500" height="8" fill="#fff"/>
</g>

<!-- Static axis titles -->
<text transform="translate(628,287) rotate(-90)" font-size="26.500" text-anchor="middle">Remaining organoids (%)</text>
<text transform="translate(1780,289) rotate(-90)" font-size="26.500" text-anchor="middle">Remaining organoids (%)</text>
<text transform="translate(24,1253) rotate(-90)" font-size="27" text-anchor="middle">Number of hCO</text>
<text x="350" y="1495" font-size="27" text-anchor="middle">Area of hCO (mm<tspan dy="-10" font-size="17">2</tspan><tspan dy="10">)</tspan></text>
<text transform="translate(668,921) rotate(-90)" font-size="25.500" text-anchor="middle">Viscosity (mPa s)</text>
<text transform="translate(653,1302) rotate(-90)" font-size="27" text-anchor="middle">Osmolarity (mOsm)</text>
<text transform="translate(1836,905) rotate(-90)" font-size="27.500" text-anchor="middle">ATTO 647 intensity</text>
<text transform="translate(1816,1296) rotate(-90)" font-size="26.500" text-anchor="middle">VZ-like structures per</text>
<text transform="translate(1848,1302) rotate(-90)" font-size="26.500" text-anchor="middle">mm<tspan dy="-10" font-size="17">2</tspan></text>

<!-- Significance brackets -->
<g fill="none" stroke="#222" stroke-width="1.800">
<path d="M723.500,268 V50.500 H1373.500 V83.500"/>
<path d="M723.500,89 H1345 V117"/>
<path d="M1881,153 V50 H1930 V85"/>
<path d="M763,849 V809 H805 V825"/>
<path d="M767,1216 V1191 H805.700 V1204"/>
<path d="M1949,809 V783 H1993 V797"/>
<path d="M1947,1204.500 V1191 H1991 V1208"/>
</g>
<text x="1062" y="56" font-size="34" text-anchor="middle">*</text>
<text x="1062" y="95" font-size="34" text-anchor="middle">*</text>
<text x="1906" y="53" font-size="31" letter-spacing="3" text-anchor="middle">****</text>
<text x="784" y="810" font-size="32" text-anchor="middle">*</text>
<text x="789" y="1193" font-size="31" letter-spacing="2" text-anchor="middle">****</text>
<text x="1970" y="775" font-size="24" text-anchor="middle">NS</text>
<text x="1969" y="1179" font-size="24" text-anchor="middle">NS</text>

<!-- d legend -->
<g>
<text x="1991" y="221" font-size="28.300">hiPS cell lines</text>
<circle cx="2008" cy="256" r="6" fill="#0b1a85"/>
<text x="2023" y="264" font-size="27">1205-4</text>
<circle cx="2008" cy="293" r="6" fill="#7575fa"/>
<text x="2023" y="302" font-size="27">1208-2</text>
<circle cx="2008" cy="330" r="6" fill="#1d1dee"/>
<text x="2023" y="342" font-size="27">8119-1</text>
<circle cx="2008" cy="366.500" r="6" fill="#4a148c"/>
<text x="2023" y="377" font-size="25">KOLF2.1J</text>
</g>

<!-- f legend -->
<g>
<rect x="308" y="1103" width="32" height="33" fill="#a2d2da" stroke="#444" stroke-width="2.500"/>
<path d="M324,1106 V1134" stroke="#2ea6b5" stroke-width="2" stroke-dasharray="4 3"/>
<rect x="308" y="1149" width="32" height="33" fill="#edd985" stroke="#444" stroke-width="2.500"/>
<path d="M324,1152 V1180" stroke="#f7941d" stroke-width="2" stroke-dasharray="4 3"/>
<text x="352" y="1129" font-size="25">hCO (<tspan font-style="italic">n</tspan> = 143)</text>
<text x="352" y="1178" font-size="25.500">hCO + XG (<tspan font-style="italic">n</tspan> = 308)</text>
</g>

<script>
// ---------- Panel b data ----------
const bCategories = ["Untreated","Acacia ash","Dermatan sulfate","Gelatin, Cold water fish skin","Gelatin, Porcine skin","Pluronic F-127","PVA","PEG 20","PEG2000","Dextran","PEG 10","PEG 300","Agarose","Methyl cellulose","Carboxymethyl cellulose 250","PEG 1000","PEG 8000","Corn starch","Cellulose nanofiber","Alginate","Gellan gum","PEG 4000","Carboxymethyl cellulose 700","Xanthan gum"];
const bMeans = [20,20,20,20,20,20,20,26.7,26.7,33.3,33.3,33.3,40,46.7,46.7,46.7,53.3,60,66.7,73.3,73.3,80,93.3,100];
const bErrors = [0,0,0,0,0,0,0,6.67,6.67,6.67,6.67,13.3,0,6.67,6.67,13.3,13.3,0,6.67,6.67,6.67,0,6.67,0];
const bReplicates = [[20,20,20],[20,20,20],[20,20,20],[20,20,20],[20,20,20],[20,20,20],[20,20,20],[40,20,20],[40,20,20],[40,40,20],[40,40,20],[60,20,20],[40,40,40],[60,40,40],[60,40,40],[60,60,20],[80,40,40],[60,60,60],[80,60,60],[80,80,60],[80,80,60],[80,80,80],[100,100,80],[100,100,100]];
const bTicks = [0,50,100];
const bTickLabels = ["0","50","100"];

// ---------- Panel d data ----------
const cellLineColors = ["#0b1a85","#7575fa","#1d1dee","#4a148c"];
const dCategories = ["hCO","hCO + XG"];
const dMeans = [33.4,90];
const dErrors = [2.8,2.1];
const dValues = [[20,20,20,20,20,20,20,20,40,40,40,40,40,60,60,60,80],[100,100,100,100,100,100,100,100,80,80,80,80,80,60]];
const dLines = [[1,1,1,3,3,1,1,1,2,1,1,1,1,3,3,3,2],[3,3,1,1,1,1,1,1,1,3,1,1,1,1]];
const dTicks = [0,50,100];
const dTickLabels = ["0","50","100"];

// ---------- Panel f data ----------
const fBinStart = -0.127;
const fBinWidth = 0.2535;
const fHcoCounts = [4,9,17,20,18,11,12,7,5,9,6,3,1,2,1,0,2,4,3,0,1,1,1,1,3,1,0,0,0,1];
const fXgCounts = [2,83,139,51,27,3,1,1,0,1,0,0,0,0,0,0,0,0,0,0,0,0,0,0,0,0,0,0,0,0];
const fHcoMedian = 1.73;
const fXgMedian = 0.54;
const fYTicks = [0,50,100];
const fYTickLabels = ["0","50","100"];
const fXTicks = [0,2,4,6];
const fXTickLabels = ["0","2","4","6"];
const fHcoRug = [0.1,0.13,0.2,0.32,0.48,0.6,0.71,0.85,0.95,1.02,1.1,1.2,1.22,1.24,1.28,1.3,1.33,1.35,1.38,1.42,1.46,1.5,1.52,1.55,1.58,1.6,1.63,1.66,1.69,1.72,1.75,1.85,1.87,1.9,1.95,2.0,2.03,2.05,2.08,2.11,2.14,2.17,2.2,2.23,2.26,2.3,2.34,2.4,2.47,2.5,2.53,2.56,2.6,2.68,2.76,2.86,3.08,3.21,3.34,3.48,3.97,4.01,4.23,4.29,4.43,4.47,4.53,4.55,5.05,5.27,5.5,5.89,5.95,5.97,6.12,6.22,7.43];
const fXgRug = [0.08,0.1,0.12,0.19,0.2,0.22,0.23,0.24,0.25,0.26,0.27,0.28,0.29,0.3,0.31,0.32,0.33,0.34,0.35,0.36,0.37,0.38,0.39,0.4,0.41,0.42,0.43,0.44,0.45,0.46,0.47,0.48,0.49,0.5,0.51,0.52,0.53,0.54,0.55,0.56,0.57,0.58,0.59,0.6,0.61,0.62,0.63,0.64,0.65,0.66,0.67,0.68,0.69,0.7,0.71,0.72,0.73,0.74,0.75,0.76,0.77,0.78,0.79,0.8,0.81,0.83,0.9,0.93,0.94,0.96,0.97,1.0,1.03,1.05,1.08,1.12,1.38,1.41,1.62];

// ---------- Panel g data ----------
const gCategories = ["Control","XG"];
const gMeans = [0.48,0.84];
const gErrors = [0.07,0.08];
const gValues = [[0.68,0.55,0.56,0.31,0.33],[1.01,0.92,0.98,0.76,0.57]];
const gSwarmColumns = [[0,-0.9,0.9,-0.9,0.9],[-0.9,-0.9,0.9,0,0]];
const gTicks = [0,0.5,1,1.5];
const gTickLabels = ["0","0.5","1.0","1.5"];

// ---------- Panel h data ----------
const hCategories = ["Control","XG"];
const hMeans = [260,320];
const hErrors = [0,0];
const hValues = [[259,259,260,258,262,261,285],[318,322,320,316,325,330,321]];
const hSwarmColumns = [[-0.55,-0.3,0,0.3,0.55,0.1,0],[-0.55,-0.3,0,0.3,0.55,0.1,0.45]];
const hTicks = [0,100,200,300,400];
const hTickLabels = ["0","100","200","300","400"];

// ---------- Panel j data ----------
const jCategories = ["Control","XG"];
const jMeans = [148,163];
const jErrors = [0,0];
const jValues = [[168,148,130,136,122,162,136,122,190,166,158,151],[178,168,166,170,158,128,219,198,190,146,155,153,144,136]];
const jLines = [[1,1,1,1,1,0,0,0,3,3,3,3],[1,1,1,1,1,1,3,3,3,3,0,0,0,0]];
const jSwarmColumns = [[0.45,-0.36,0.1,0.85,-0.75,-0.36,-0.36,0.85,0,-0.75,0.85,0.4],[-0.2,-0.5,0.57,0.1,-0.88,-0.27,0,0,0.27,-0.5,0.27,0.8,0.5,0.27]];
const jTicks = [0,50,100,150,200,250];
const jTickLabels = ["0","50","100","150","200","250"];

// ---------- Panel k data ----------
const kCategories = ["hCO","hCO + XG"];
const kMeans = [19.3,20.5];
const kErrors = [3.1,2.9];
const kValues = [[39.4,18.4,17,12.8,38.5,14.7,7.8,7,25.1,19.9,16.7,16.7],[29.7,20,37,24,16.7,8.7,24.7,18.6,14.5,13.8]];
const kLines = [[1,1,1,1,0,0,0,0,3,3,3,3],[1,1,0,0,0,0,3,3,3,3]];
const kSwarmColumns = [[-0.25,-0.75,-0.3,-0.25,0.3,-0.75,0.3,-0.25,0,-0.25,0.3,0.85],[0,0.85,0,0.85,0.85,0,-0.75,-0.75,-0.75,0.85]];
const kTicks = [0,10,20,30,40,50];
const kTickLabels = ["0","10","20","30","40","50"];

const jkColors = ["#06148c","#7f85f5","#1d1dee","#5b1e8f"];
const NS = "http://www.w3.org/2000/svg";
const root = document.getElementById("root");

function add(parent, tag, attrs, text) {
  const el = document.createElementNS(NS, tag);
  for (const k in attrs) el.setAttribute(k, attrs[k]);
  if (text !== undefined) el.textContent = text;
  parent.appendChild(el);
  return el;
}

function drawBarPanel(c) {
  const g = add(root, "g", {});
  
  
  const yScale = v => c.yZero - (v / c.yMax) * (c.yZero - c.yTop);
  const xScale = i => c.x0 + i * c.step;
  const ink = c.ink || "#222";
  const sw = c.sw || 1.8;

  c.means.forEach((m, i) => {
    const bar = add(g, "rect", {x: xScale(i) - c.barW / 2, y: yScale(m), width: c.barW, height: c.yZero - yScale(m), fill: "#fff", stroke: ink, "stroke-width": sw});
    
    
  });

  const yAxis = add(g, "line", {x1: c.axisX, x2: c.axisX, y1: yScale(c.yMax), y2: c.yZero, stroke: ink, "stroke-width": sw});
  
  
  const xAxis = add(g, "line", {x1: c.xAxisStart, x2: c.xAxisEnd, y1: c.yZero, y2: c.yZero, stroke: ink, "stroke-width": sw});
  
  

  c.ticks.forEach((t, i) => {
    const tick = add(g, "line", {x1: c.axisX - c.tickLen, x2: c.axisX, y1: yScale(t), y2: yScale(t), stroke: ink, "stroke-width": sw});
    
    
    const lab = add(g, "text", {x: c.tickLabelX, y: yScale(t) + c.tickSize * 0.36, "font-size": c.tickSize, "text-anchor": "end"}, c.tickLabels[i]);
    
    
  });

  c.errors.forEach((e, i) => {
    if (!e) return;
    const x = xScale(i), t = yScale(c.means[i] + e), b = yScale(c.means[i] - e);
    const err = add(g, "path", {d: "M" + (x - c.capW / 2) + "," + t + "H" + (x + c.capW / 2) + "M" + x + "," + t + "V" + b + "M" + (x - c.capW / 2) + "," + b + "H" + (x + c.capW / 2), fill: "none", stroke: ink, "stroke-width": sw});
    
    
  });

  c.values.forEach((vals, i) => {
    vals.forEach((v, j) => {
      let off;
      if (c.columns) {
        off = c.columns[i][j] * c.columnPx;
      } else {
        const same = vals.filter(u => u === v).length;
        const pos = vals.slice(0, j).filter(u => u === v).length;
        off = (pos - (same - 1) / 2) * c.spread;
      }
      const fill = c.lines ? c.palette[c.lines[i][j]] : c.dotColor;
      const dot = add(g, "circle", {cx: xScale(i) + off, cy: yScale(v), r: c.r, fill: fill});
      
      
    });
  });

  c.cats.forEach((cat, i) => {
    const lx = xScale(i) + c.labelDx, ly = c.labelY;
    const lab = add(g, "text", {x: lx, y: ly, "font-size": c.labelSize, "text-anchor": "end", transform: "rotate(-45 " + lx + " " + ly + ")"}, cat);
    
    
  });
}

drawBarPanel({name:"b", cats:bCategories, means:bMeans, errors:bErrors, values:bReplicates, ticks:bTicks, tickLabels:bTickLabels,
  yZero:462.5, yTop:117, yMax:100, axisX:705.5, xAxisStart:697, xAxisEnd:1395, x0:723.5, step:28.26, barW:16.3, capW:10, r:5.7, spread:3.6,
  dotColor:"#10148c", tickLen:8.7, tickLabelX:684, tickSize:24, labelSize:22.3, labelDx:9, labelY:482});

drawBarPanel({name:"d", cats:dCategories, means:dMeans, errors:dErrors, values:dValues, lines:dLines, palette:cellLineColors, ticks:dTicks, tickLabels:dTickLabels,
  yZero:463.4, yTop:118.6, yMax:100, axisX:1848.5, xAxisStart:1841, xAxisEnd:1962, x0:1881, step:49, barW:29, capW:15, r:6.2, spread:3,
  tickLen:7.5, tickLabelX:1829, tickSize:24, labelSize:27, labelDx:9, labelY:484});

drawBarPanel({name:"g", cats:gCategories, means:gMeans, errors:gErrors, values:gValues, columns:gSwarmColumns, columnPx:12, dotColor:"#0a0a0a", ticks:gTicks, tickLabels:gTickLabels,
  yZero:1032, yTop:803, yMax:1.5, axisX:739, xAxisStart:732, xAxisEnd:830, x0:763.5, step:41.5, barW:30.5, capW:16, r:6, ink:"#333", sw:2,
  tickLen:7.5, tickLabelX:727, tickSize:24, labelSize:28, labelDx:12, labelY:1058});

drawBarPanel({name:"h", cats:hCategories, means:hMeans, errors:hErrors, values:hValues, columns:hSwarmColumns, columnPx:12, dotColor:"#0a0a0a", ticks:hTicks, tickLabels:hTickLabels,
  yZero:1416, yTop:1188, yMax:400, axisX:741, xAxisStart:733, xAxisEnd:832, x0:766.7, step:39, barW:23, capW:10, r:6, ink:"#333", sw:2,
  tickLen:8, tickLabelX:719, tickSize:24, labelSize:28, labelDx:10, labelY:1436});

drawBarPanel({name:"j", cats:jCategories, means:jMeans, errors:jErrors, values:jValues, lines:jLines, palette:jkColors, columns:jSwarmColumns, columnPx:11, ticks:jTicks, tickLabels:jTickLabels,
  yZero:1016, yTop:787.6, yMax:250, axisX:1920, xAxisStart:1912, xAxisEnd:2023, x0:1949, step:44, barW:26.5, capW:12, r:5.7, ink:"#333", sw:2,
  tickLen:8, tickLabelX:1897, tickSize:24, labelSize:28, labelDx:14, labelY:1044});

drawBarPanel({name:"k", cats:kCategories, means:kMeans, errors:kErrors, values:kValues, lines:kLines, palette:jkColors, columns:kSwarmColumns, columnPx:11, ticks:kTicks, tickLabels:kTickLabels,
  yZero:1406, yTop:1178.6, yMax:50, axisX:1918, xAxisStart:1910, xAxisEnd:2021, x0:1947, step:44, barW:26.5, capW:12, r:5.7, ink:"#333", sw:2,
  tickLen:8, tickLabelX:1897, tickSize:24, labelSize:26.5, labelDx:9, labelY:1426});

// Panel f histogram
(function () {
  const g = add(root, "g", {});
  
  
  const xS = v => 132.5 + v * 59.1;
  const yS = v => 1399 - v * 2.1;
  const axisY = 1413;

  const drawSeries = (counts, fill, name) => {
    counts.forEach((n, i) => {
      if (!n) return;
      const left = fBinStart + i * fBinWidth;
      const b = add(g, "rect", {x: xS(left), y: yS(n), width: xS(left + fBinWidth) - xS(left), height: yS(0) - yS(n), fill: fill, "fill-opacity": 0.5, stroke: n > 60 ? "#666" : "#141414", "stroke-width": 2.4});
      
      
    });
  };
  const base = add(g, "line", {x1: xS(fBinStart), x2: xS(fBinStart + 30 * fBinWidth), y1: yS(0), y2: yS(0), stroke: "#1c1c1c", "stroke-width": 2});
  
  
  drawSeries(fHcoCounts, "#46a6b5", "f-bar-hco");
  drawSeries(fXgCounts, "#dbb40c", "f-bar-hco-xg");

  const drawRug = (vals, color, name) => {
    vals.forEach(v => {
      const r = add(g, "line", {x1: xS(v), x2: xS(v), y1: 1403, y2: axisY, stroke: color, "stroke-width": 1.6, "stroke-opacity": 0.8});
      
      
    });
  };
  drawRug(fHcoRug, "#6fbccb", "f-rug-hco");
  drawRug(fXgRug, "#d4ad00", "f-rug-hco-xg");

  const m1 = add(g, "line", {x1: xS(fHcoMedian), x2: xS(fHcoMedian), y1: 1093, y2: 1378, stroke: "#2ea6b5", "stroke-width": 2.6, "stroke-dasharray": "17 17.500"});
  
  
  const m2 = add(g, "line", {x1: xS(fXgMedian), x2: xS(fXgMedian), y1: 1093, y2: 1404, stroke: "#f7941d", "stroke-width": 2.6, "stroke-dasharray": "17 9"});
  
  

  const ya = add(g, "line", {x1: 102, x2: 102, y1: 1093, y2: axisY, stroke: "#222", "stroke-width": 1.8});
  
  
  const xa = add(g, "line", {x1: 102, x2: 596, y1: axisY, y2: axisY, stroke: "#222", "stroke-width": 1.8});
  
  
  const xb = add(g, "line", {x1: 136, x2: 297, y1: axisY + 1, y2: axisY + 1, stroke: "#111", "stroke-width": 1.6, "stroke-dasharray": "12 2 20 3 8 2"});
  
  

  fYTicks.forEach((t, i) => {
    const tk = add(g, "line", {x1: 94, x2: 102, y1: yS(t), y2: yS(t), stroke: "#222", "stroke-width": 1.8});
    
    
    const lb = add(g, "text", {x: 82, y: yS(t) + 9, "font-size": 24, "text-anchor": "end"}, fYTickLabels[i]);
    
    
  });
  fXTicks.forEach((t, i) => {
    const tk = add(g, "line", {x1: xS(t), x2: xS(t), y1: axisY, y2: axisY + 13, stroke: "#222", "stroke-width": 1.8});
    
    
    const lb = add(g, "text", {x: xS(t), y: 1453, "font-size": 24, "text-anchor": "middle"}, fXTickLabels[i]);
    
    
  });
})();
</script>
</svg>
</body>
</html>
